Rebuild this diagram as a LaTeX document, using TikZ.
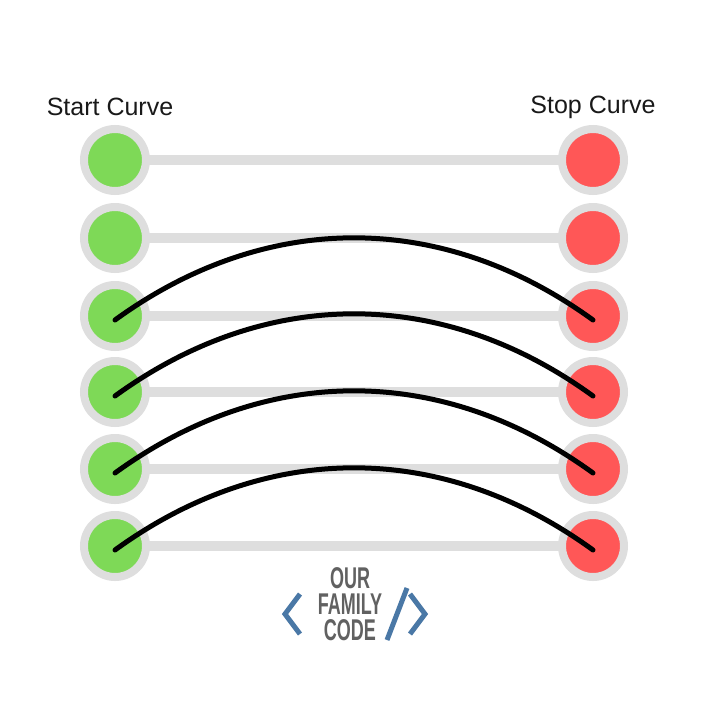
\documentclass[tikz,border=0pt]{standalone}
\usepackage{fontspec}
\setmainfont{Liberation Sans}
\begin{document}
\begin{tikzpicture}[x=1pt,y=-1pt]
\definecolor{startgreen}{HTML}{7ED957}
\definecolor{stopred}{HTML}{FF5757}
\definecolor{logoblue}{HTML}{4A78A6}
\tikzstyle{start}=[circle,fill=startgreen,draw=black!13,line width=8pt,minimum size=62pt,inner sep=0pt]
\tikzstyle{stop}=[circle,fill=stopred,draw=black!13,line width=8pt,minimum size=62pt,inner sep=0pt]
\tikzstyle{bar}=[black!13,line width=10pt]
\tikzstyle{curve}=[black,line width=5pt,line cap=round]
\tikzstyle{label}=[font=\fontsize{25}{25}\selectfont,text=black!90]
\tikzstyle{logo}=[text=black!62,font=\bfseries\fontsize{30}{30}\selectfont,inner sep=0pt,xscale=0.6]

\useasboundingbox[fill=white] (0,0) rectangle (705,705);

%labels.
\node[label] (start_label) at (110,107) {Start Curve};
\node[label] (stop_label) at (593,107) {Stop Curve};

%rows.
\foreach \i/\y in {1/160,2/238,3/316,4/392,5/469,6/546}{
  \coordinate (l\i) at (115,\y);
  \coordinate (r\i) at (593,\y);
  \draw[bar] (l\i) -- (r\i);
  \node[start] (s\i) at (l\i) {};
  \node[stop] (e\i) at (r\i) {};
}

%curves.
\foreach \i in {3,...,6}{
  \draw[curve] ([yshift=-4pt]s\i.center) to[bend left=36] ([yshift=-4pt]e\i.center);
}

%logo.
\node[logo] (our) at (350,578) {OUR};
\node[logo] (family) at (350,604) {FAMILY};
\node[logo] (code) at (350,630) {CODE};
\coordinate (lt) at (300,594); \coordinate (lm) at (285,614); \coordinate (lb) at (300,634);
\draw[logoblue,line width=5pt] (lt) -- (lm) -- (lb);
\coordinate (rt) at (410,594); \coordinate (rm) at (425,614); \coordinate (rb) at (410,634);
\draw[logoblue,line width=5pt] (rt) -- (rm) -- (rb);
\coordinate (st) at (407,588); \coordinate (sb) at (387,640);
\draw[logoblue,line width=5pt] (st) -- (sb);
\end{tikzpicture}
\end{document}
